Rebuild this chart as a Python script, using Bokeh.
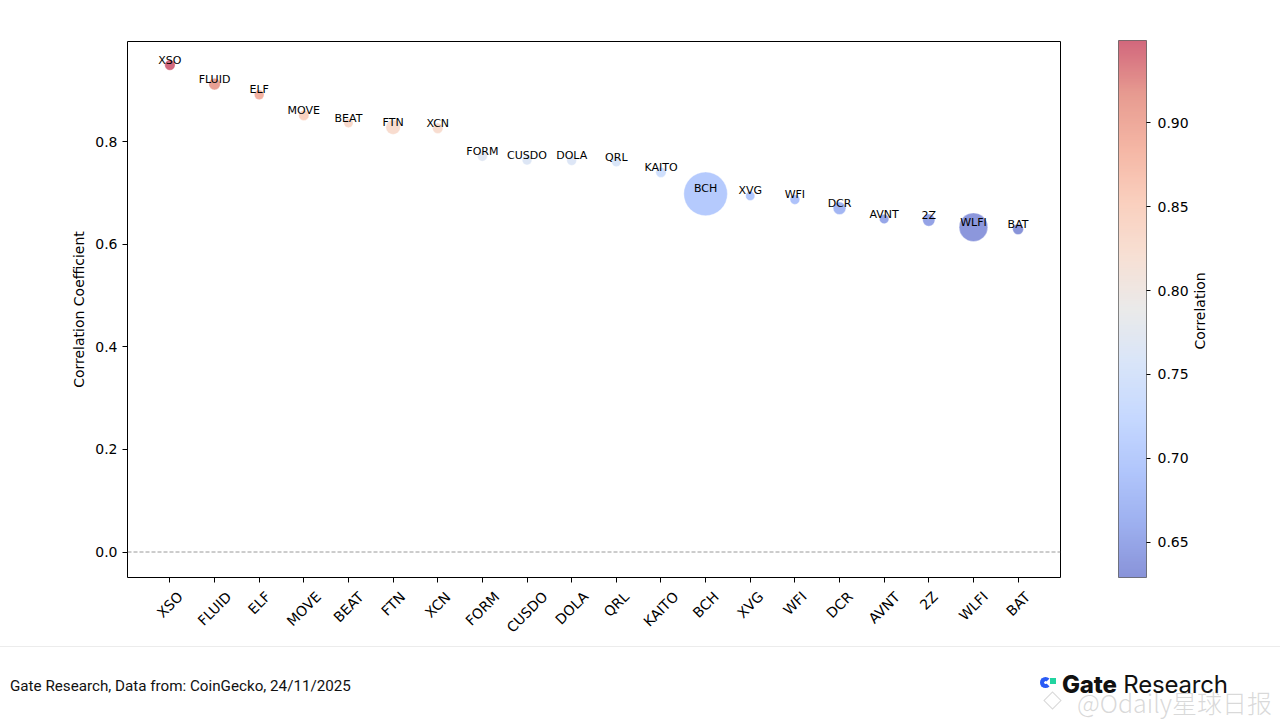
import numpy as np
from bokeh.plotting import figure
from bokeh.models import (ColumnDataSource, LinearColorMapper, ColorBar, FixedTicker,
                          PrintfTickFormatter, Span, Range1d, Div)
from bokeh.layouts import column, row
from bokeh.embed import file_html
from bokeh.resources import INLINE
from bokeh.core.properties import value

# ---------------- data ----------------
coins = ["XSO", "FLUID", "ELF", "MOVE", "BEAT", "FTN", "XCN", "FORM", "CUSDO", "DOLA",
         "QRL", "KAITO", "BCH", "XVG", "WFI", "DCR", "AVNT", "2Z", "WLFI", "BAT"]
correlation = [0.949, 0.912, 0.891, 0.851, 0.836, 0.828, 0.826, 0.771, 0.764, 0.763,
               0.760, 0.740, 0.698, 0.694, 0.687, 0.670, 0.649, 0.647, 0.633, 0.629]
relative_volume = [110, 135, 95, 105, 85, 210, 110, 95, 95, 95,
                   85, 105, 1900, 85, 95, 160, 90, 150, 820, 115]
y_ticks = [0.0, 0.2, 0.4, 0.6, 0.8]
cbar_ticks = [0.65, 0.70, 0.75, 0.80, 0.85, 0.90]
footer_text = "Gate Research, Data from: CoinGecko, 24/11/2025"
watermark_text = "@Odaily星球日报"

FONT = "DejaVu Sans"
ALPHA = 0.6
TICK_PX = 14

# coolwarm-like palette
anchors = ["#3b4cc0", "#5d7ce6", "#7ea1fa", "#a1c0ff", "#c0d4f5", "#dddcdc",
           "#f2cbb7", "#f7b093", "#ee8669", "#d85a48", "#b40426"]
rgb = np.array([[int(h[i:i + 2], 16) for i in (1, 3, 5)] for h in anchors], float)
tt = np.linspace(0, 1, 256)
pos = np.linspace(0, 1, len(anchors))
cols = np.stack([np.interp(tt, pos, rgb[:, k]) for k in range(3)], 1)
palette = ["#%02x%02x%02x" % tuple(int(round(c)) for c in row_) for row_ in cols]

# DejaVu Sans advance widths (em) used to centre the rotated tick labels
ADV = {"A": .684, "B": .686, "C": .698, "D": .770, "E": .632, "F": .575, "G": .775,
       "H": .752, "I": .295, "K": .656, "L": .557, "M": .863, "N": .748, "O": .787,
       "Q": .787, "R": .695, "S": .635, "T": .611, "U": .732, "V": .684, "W": .989,
       "X": .686, "Z": .686, "2": .636}

# ---------------- geometry (page pixels) ----------------
PAGE_W = 1280
W1, H1 = 1090, 587                 # main plot canvas
FL, FR, FT, FB = 127, 1060, 41, 577  # frame edges
LAB_H = 59                         # strip holding the rotated x tick labels
FOOT_H = 76

X0, X1 = -0.95, len(coins) - 1 + 0.95
Y0, Y1 = -0.0497, 0.995
xr = Range1d(X0, X1)

p = figure(width=W1, height=H1, output_backend="svg", toolbar_location=None, title=None,
           x_range=xr, y_range=Range1d(Y0, Y1),
           min_border_left=FL, min_border_right=W1 - FR,
           min_border_top=FT, min_border_bottom=H1 - FB)
p.background_fill_color = "white"
p.border_fill_color = "white"
p.outline_line_color = "black"
p.outline_line_width = 1
p.grid.visible = False

mapper = LinearColorMapper(palette=palette, low=min(correlation), high=max(correlation))
src = ColumnDataSource(dict(
    x=list(range(len(coins))), corr=correlation, coin=coins,
    size=[float(np.sqrt(v)) for v in relative_volume]))

p.add_layout(Span(location=0, dimension="width", line_color="gray",
                  line_dash="4 2", line_width=0.8))

p.scatter("x", "corr", size="size", source=src,
          fill_color={"field": "corr", "transform": mapper}, fill_alpha=ALPHA,
          line_color="white", line_width=0.6, line_alpha=0.6)
p.text("x", "corr", text="coin", source=src, text_align="center",
       text_baseline="alphabetic", y_offset=-5, text_font=value(FONT),
       text_font_size="11px", text_color="black")

# axes
p.xaxis.ticker = FixedTicker(ticks=list(range(len(coins))))
p.xaxis.major_label_overrides = {i: "" for i in range(len(coins))}
p.yaxis.ticker = FixedTicker(ticks=y_ticks)
p.yaxis.formatter = PrintfTickFormatter(format="%.1f")
p.yaxis.axis_label = "Correlation Coefficient"
for ax in (p.xaxis, p.yaxis):
    ax.axis_line_color = None
    ax.major_tick_out = 5
    ax.major_tick_in = 0
    ax.minor_tick_line_color = None
    ax.major_tick_line_color = "black"
    ax.major_label_text_font = FONT
    ax.major_label_text_font_size = f"{TICK_PX}px"
    ax.major_label_text_color = "black"
    ax.major_label_standoff = 5
    ax.axis_label_text_font = FONT
    ax.axis_label_text_font_size = "14px"
    ax.axis_label_text_font_style = "normal"
    ax.axis_label_text_color = "black"
p.xaxis.major_label_text_font_size = "0px"
p.xaxis.major_label_standoff = 0
p.yaxis.axis_label_standoff = 5

# ---------------- colour bar strip (right of the plot) ----------------
CB_W = PAGE_W - W1
pc = figure(width=CB_W, height=H1, output_backend="svg", toolbar_location=None, title=None,
            x_range=Range1d(0, CB_W), y_range=Range1d(H1, 0),
            min_border_left=0, min_border_right=0, min_border_top=0, min_border_bottom=0)
pc.axis.visible = False
pc.grid.visible = False
pc.outline_line_color = None
pc.background_fill_color = "white"
pc.border_fill_color = "white"

cb = ColorBar(color_mapper=mapper, orientation="vertical", location=(1118 - W1, H1 - FB - 10),
              width=28, height=FB - FT + 1, padding=0, margin=0,
              ticker=FixedTicker(ticks=cbar_ticks), formatter=PrintfTickFormatter(format="%.2f"),
              major_tick_out=4, major_tick_in=0, major_tick_line_color="black",
              minor_tick_line_color=None, bar_line_color="#333333", bar_line_width=1,
              scale_alpha=ALPHA, major_label_text_font=FONT,
              major_label_text_font_size=f"{TICK_PX}px",
              major_label_text_color="black", label_standoff=7,
              background_fill_color=None, border_line_color=None)
pc.add_layout(cb, "center")
pc.text(x=[1199 - W1], y=[(FT + FB) / 2 - 14], text=["Correlation"], angle=np.pi / 2,
        text_align="center", text_baseline="middle", text_font=value(FONT),
        text_font_size="14px", text_color="black")

# ---------------- x tick label strip (below the plot) ----------------
pl = figure(width=W1, height=LAB_H, output_backend="svg", toolbar_location=None, title=None,
            x_range=xr, y_range=Range1d(LAB_H, 0),
            min_border_left=FL, min_border_right=W1 - FR, min_border_top=0, min_border_bottom=0)
pl.axis.visible = False
pl.grid.visible = False
pl.outline_line_color = None
pl.background_fill_color = "white"
pl.border_fill_color = "white"

LABEL_TOP = 590 - H1
lab_y = []
for c in coins:
    L = sum(ADV.get(ch, 0.65) for ch in c) * TICK_PX
    lab_y.append(LABEL_TOP + 0.354 * (L + 0.73 * TICK_PX))
pl.text(x=list(range(len(coins))), y=lab_y, text=coins, angle=np.pi / 4,
        text_align="center", text_baseline="middle", text_font=value(FONT),
        text_font_size=f"{TICK_PX}px", text_color="black")

# ---------------- footer ----------------
footer_html = f"""
<div style="position:relative;width:1280px;height:{FOOT_H}px;border-top:1px solid #ececec;overflow:visible;">
  <div style="position:absolute;left:10px;top:29px;font-family:Roboto,sans-serif;font-size:15.2px;color:#111;white-space:nowrap;">{footer_text}</div>
  <div style="position:absolute;left:1040px;top:30px;width:11px;height:11px;border:4px solid #2a5bf5;border-radius:50%;border-right-color:transparent;"></div>
  <div style="position:absolute;left:1050px;top:31px;width:6px;height:6px;background:#21d4a0;"></div>
  <div style="position:absolute;left:1062px;top:21px;font-family:Inter,sans-serif;font-size:24px;color:#111;white-space:nowrap;letter-spacing:-0.2px;"><b style="font-weight:800;">Gate</b> <span style="font-weight:400;">Research</span></div>
  <div style="position:absolute;left:1046px;top:47px;width:13px;height:13px;border:1px solid rgba(190,190,190,0.6);transform:rotate(45deg);"></div>
  <div style="position:absolute;left:1077px;top:38px;font-family:'Noto Sans CJK SC',sans-serif;font-size:25px;font-weight:300;color:rgba(185,185,185,0.55);white-space:nowrap;">{watermark_text}</div>
</div>
"""
footer = Div(text=footer_html, width=PAGE_W, height=FOOT_H, margin=(0, 0, 0, 0))

layout = column(row(p, pc, spacing=0), pl, footer, spacing=0)
open("out.html", "w").write(file_html(layout, INLINE))
